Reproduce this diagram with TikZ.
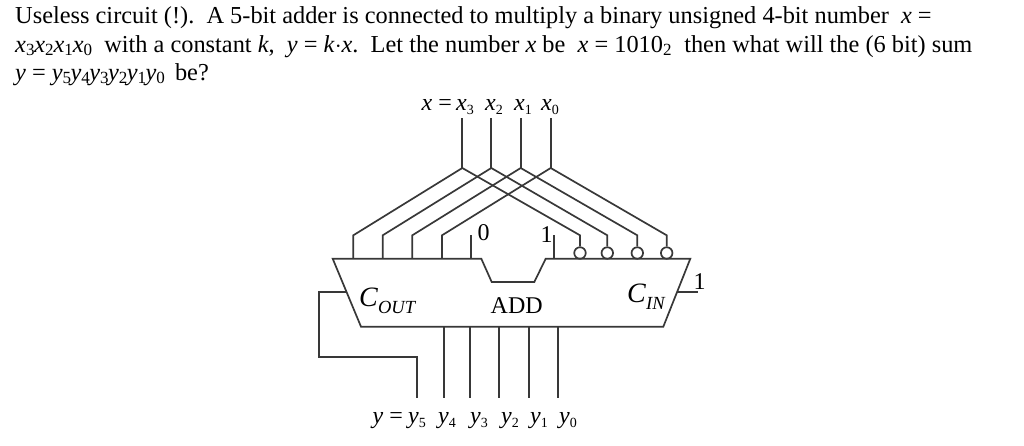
\documentclass[tikz,border=0pt]{standalone}
\usepackage{fontspec}
\setmainfont{Liberation Serif}
\usepackage{tikz}
\newcommand{\subvar}[2]{\textit{#1}\textsubscript{#2}\kern-0.6pt}
\newcommand{\pinvar}[2]{\textit{#1}\raisebox{-4pt}{\fontsize{14}{14}\selectfont #2}}
\newcommand{\bigvar}[2]{\fontsize{28}{28}\selectfont\textit{#1}\raisebox{-7pt}{\fontsize{18.5}{18.5}\selectfont\textit{#2}}}
\tikzset{
	wire/.style={line width=1.7pt, black!78},
	bubble/.style={circle, draw=black!78, line width=1.7pt, inner sep=0pt, minimum size=11.5pt},
	textline/.style={anchor=base west, inner sep=0pt, font=\fontsize{24.35}{28}\selectfont},
	pinlabel/.style={inner sep=0pt, font=\fontsize{24}{28}\selectfont},
}

\begin{document}
\begin{tikzpicture}[x=1pt, y=-1pt]
	\useasboundingbox (0,0) rectangle (1024,445);
	% question text
	\node[textline] (lineA) at (15,23) {Useless circuit (!).\ \ A 5-bit adder is connected to multiply a binary unsigned 4-bit number\ \ \textit{x} =};
	\node[textline] (lineB) at (15,52) {\subvar{x}{3}\subvar{x}{2}\subvar{x}{1}\subvar{x}{0}\ \ with a constant \textit{k},\ \ \textit{y} = \textit{k}$\cdot$\textit{x}.\ \ Let the number \textit{x} be\ \ \textit{x} = 1010\textsubscript{2}\ \ then what will the (6 bit) sum};
	\node[textline] (lineC) at (15,80) {\textit{y} = \subvar{y}{5}\kern-0.5pt\subvar{y}{4}\kern-0.5pt\subvar{y}{3}\kern-0.5pt\subvar{y}{2}\kern-0.5pt\subvar{y}{1}\kern-0.5pt\subvar{y}{0}\ \ \kern-2pt be?};
	% adder outline
	\coordinate (tl) at (332.7,258.7);
	\coordinate (tr) at (690.3,258.7);
	\coordinate (bl) at (361,326.7);
	\coordinate (br) at (663.3,326.7);
	\coordinate (cout) at (346.7,292.3);
	\coordinate (cin) at (677,292.3);
	\draw[wire] (tl) -- (481.3,258.7) -- (491.7,282) -- (534.3,282) -- (545.7,258.7) -- (tr) -- (br) -- (bl) -- cycle;
	\node[pinlabel] (add) at (516.7,306) {ADD};
	\node[pinlabel, anchor=base west] (coutlabel) at (359,306.5) {\bigvar{C}{OUT}};
	\node[pinlabel, anchor=base west] (cinlabel) at (627,302.5) {\bigvar{C}{IN}};
	% inputs, each one crosses over to both sides
	\node[pinlabel, anchor=base east] (xeq) at (452,110) {\textit{x} =};
	\foreach \n/\xtop/\xleft/\xright/\xtext in {3/462.3/353.3/580/456, 2/491.3/382.7/607.3/485, 1/520.7/412.3/637.3/514, 0/550.7/442/666.7/541} {
		\node[pinlabel, anchor=base west] (x\n) at (\xtext,110) {\pinvar{x}{\n}};
		\coordinate (in\n) at (\xtop,118);
		\coordinate (split\n) at (\xtop,168);
		\coordinate (kneel\n) at (\xleft,235.3);
		\coordinate (portl\n) at (\xleft,258.7);
		\coordinate (kneer\n) at (\xright,235.3);
		\node[bubble] (inv\n) at (\xright,253) {};
		\draw[wire] (in\n) -- (split\n);
		\draw[wire] (portl\n) -- (kneel\n) -- (split\n) -- (kneer\n) -- (inv\n.north);
	}
	% constants
	\coordinate (zerotop) at (471.3,235);
	\coordinate (zeroport) at (471.3,258.7);
	\coordinate (onetop) at (553.7,235);
	\coordinate (oneport) at (553.7,258.7);
	\coordinate (cinend) at (697.7,292.3);
	\draw[wire] (zerotop) -- (zeroport);
	\draw[wire] (onetop) -- (oneport);
	\draw[wire] (cin) -- (cinend);
	\node[pinlabel] (zero) at (483.5,233) {0};
	\node[pinlabel] (one) at (546.5,235) {1};
	\node[pinlabel] (cinone) at (699.5,281.5) {1};
	% outputs
	\node[pinlabel, anchor=base east] (yeq) at (403,423) {\textit{y} =};
	\coordinate (y5end) at (417,397.7);
	\draw[wire] (cout) -- (319.3,292.3) -- (319.3,356.7) -- (417,356.7) -- (y5end);
	\node[pinlabel, anchor=base west] (y5) at (408,423) {\pinvar{y}{5}};
	\foreach \n/\xout/\xtext in {4/444/438, 3/469.7/470, 2/499.3/501, 1/528.7/530, 0/558.3/559} {
		\coordinate (outa\n) at (\xout,326.7);
		\coordinate (outb\n) at (\xout,397.7);
		\draw[wire] (outa\n) -- (outb\n);
		\node[pinlabel, anchor=base west] (y\n) at (\xtext,423) {\pinvar{y}{\n}};
	}
\end{tikzpicture}
\end{document}
